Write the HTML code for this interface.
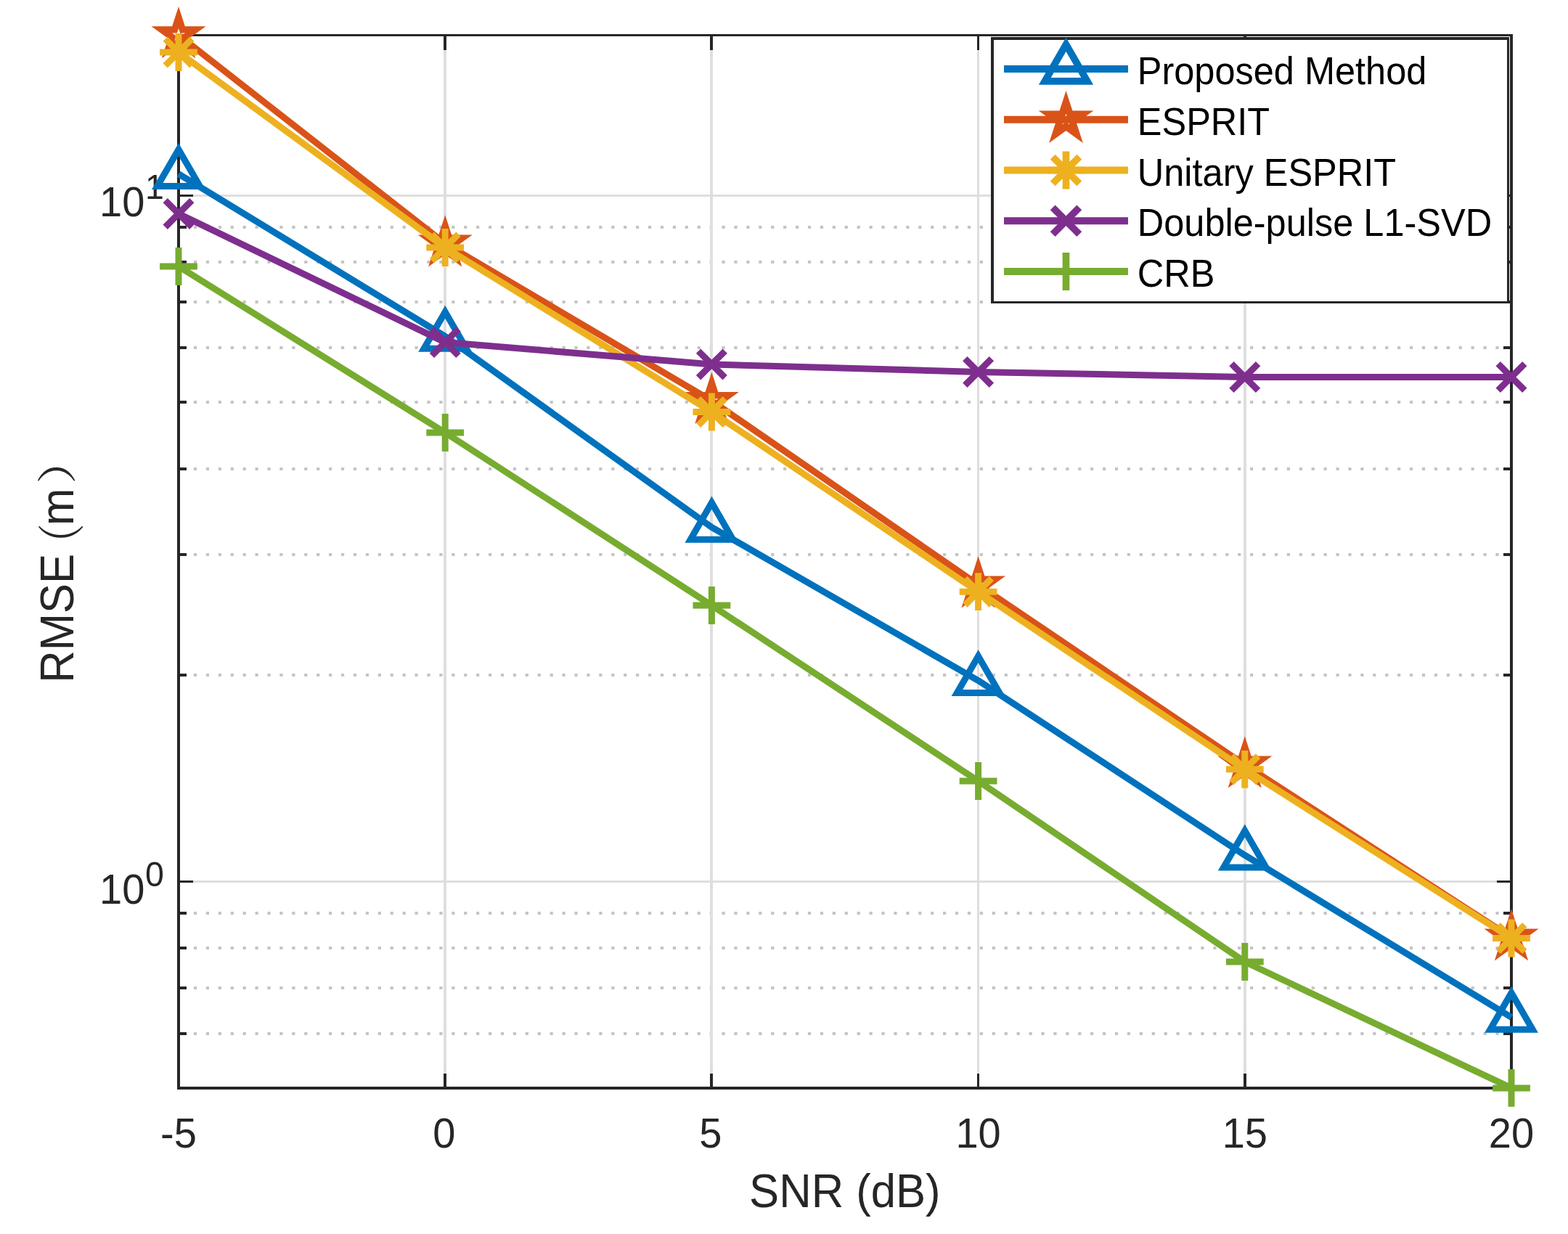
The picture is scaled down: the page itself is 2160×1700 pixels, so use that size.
<!DOCTYPE html>
<html><head><meta charset="utf-8"><title>RMSE vs SNR</title>
<style>html,body{margin:0;padding:0;background:#fff;}svg{display:block;}text{font-family:"Liberation Sans",Arial,Helvetica,sans-serif;}text.cjk{font-family:"Noto Serif CJK SC","Noto Serif CJK JP","Noto Sans CJK SC",serif;}</style></head><body>
<svg xmlns="http://www.w3.org/2000/svg" width="2160" height="1700" viewBox="0 0 2160 1700">
<rect x="0" y="0" width="2160" height="1700" fill="#fff"/>
<g id="grid">
<line x1="250" y1="1424" x2="2080" y2="1424" stroke="#c4c4c4" stroke-width="4" stroke-dasharray="4.2 12.72"/>
<line x1="250" y1="1361" x2="2080" y2="1361" stroke="#c4c4c4" stroke-width="4" stroke-dasharray="4.2 12.72"/>
<line x1="250" y1="1306" x2="2080" y2="1306" stroke="#c4c4c4" stroke-width="4" stroke-dasharray="4.2 12.72"/>
<line x1="250" y1="1258" x2="2080" y2="1258" stroke="#c4c4c4" stroke-width="4" stroke-dasharray="4.2 12.72"/>
<line x1="250" y1="930" x2="2080" y2="930" stroke="#c4c4c4" stroke-width="4" stroke-dasharray="4.2 12.72"/>
<line x1="250" y1="764" x2="2080" y2="764" stroke="#c4c4c4" stroke-width="4" stroke-dasharray="4.2 12.72"/>
<line x1="250" y1="646" x2="2080" y2="646" stroke="#c4c4c4" stroke-width="4" stroke-dasharray="4.2 12.72"/>
<line x1="250" y1="554" x2="2080" y2="554" stroke="#c4c4c4" stroke-width="4" stroke-dasharray="4.2 12.72"/>
<line x1="250" y1="479" x2="2080" y2="479" stroke="#c4c4c4" stroke-width="4" stroke-dasharray="4.2 12.72"/>
<line x1="250" y1="416" x2="2080" y2="416" stroke="#c4c4c4" stroke-width="4" stroke-dasharray="4.2 12.72"/>
<line x1="250" y1="361" x2="2080" y2="361" stroke="#c4c4c4" stroke-width="4" stroke-dasharray="4.2 12.72"/>
<line x1="250" y1="313" x2="2080" y2="313" stroke="#c4c4c4" stroke-width="4" stroke-dasharray="4.2 12.72"/>
<line x1="613" y1="47" x2="613" y2="1501" stroke="#dedede" stroke-width="4"/>
<line x1="980" y1="47" x2="980" y2="1501" stroke="#dedede" stroke-width="4"/>
<line x1="1347.5" y1="47" x2="1347.5" y2="1501" stroke="#dedede" stroke-width="3"/>
<line x1="1715" y1="47" x2="1715" y2="1501" stroke="#dedede" stroke-width="4"/>
<line x1="244" y1="1214.5" x2="2084" y2="1214.5" stroke="#dedede" stroke-width="3"/>
<line x1="244" y1="269.5" x2="2084" y2="269.5" stroke="#dedede" stroke-width="3"/>
</g>
<g id="axes" stroke="#262626" fill="none" stroke-linecap="butt">
<line x1="244" y1="48.5" x2="2084" y2="48.5" stroke-width="3"/>
<line x1="244" y1="1499" x2="2084" y2="1499" stroke-width="4"/>
<line x1="246" y1="47" x2="246" y2="1501" stroke-width="4"/>
<line x1="2082" y1="47" x2="2082" y2="1501" stroke-width="4"/>
<path d="M613 1499V1479M613 48.5V69" stroke-width="4"/>
<path d="M980 1499V1479M980 48.5V69" stroke-width="4"/>
<path d="M1347.5 1499V1479M1347.5 48.5V69" stroke-width="3"/>
<path d="M1715 1499V1479M1715 48.5V69" stroke-width="4"/>
<path d="M246 1214.5H266M2082 1214.5H2062" stroke-width="3"/>
<path d="M246 269.5H266M2082 269.5H2062" stroke-width="3"/>
<path d="M246 1424H257M2082 1424H2071 M246 1361H257M2082 1361H2071 M246 1306H257M2082 1306H2071 M246 1258H257M2082 1258H2071 M246 930H257M2082 930H2071 M246 764H257M2082 764H2071 M246 646H257M2082 646H2071 M246 554H257M2082 554H2071 M246 479H257M2082 479H2071 M246 416H257M2082 416H2071 M246 361H257M2082 361H2071 M246 313H257M2082 313H2071" stroke-width="4"/>
</g>
<g id="ticklabels" fill="#262626">
<text transform="translate(246 1580.8) scale(1 1.03)" x="0" y="0" font-size="56" text-anchor="middle">-5</text>
<text transform="translate(611.7 1580.8) scale(1 1.03)" x="0" y="0" font-size="56" text-anchor="middle">0</text>
<text transform="translate(978.9 1580.8) scale(1 1.03)" x="0" y="0" font-size="56" text-anchor="middle">5</text>
<text transform="translate(1347.6 1580.8) scale(1 1.03)" x="0" y="0" font-size="56" text-anchor="middle">10</text>
<text transform="translate(1714.8 1580.8) scale(1 1.03)" x="0" y="0" font-size="56" text-anchor="middle">15</text>
<text transform="translate(2082 1580.8) scale(1 1.03)" x="0" y="0" font-size="56" text-anchor="middle">20</text>
<text transform="translate(137 297.8) scale(1 1.03)" x="0" y="0" font-size="56">10</text>
<text transform="translate(200 273.8) scale(1 1.03)" x="0" y="0" font-size="46.5">1</text>
<text transform="translate(137 1244.9) scale(1 1.03)" x="0" y="0" font-size="56">10</text>
<text transform="translate(200 1220.9) scale(1 1.03)" x="0" y="0" font-size="46.5">0</text>
</g>
<g id="axislabels" fill="#262626">
<text transform="translate(1032.1 1663) scale(1 1.06)" x="0" y="0" font-size="61.6">SNR (dB)</text>
<text transform="translate(100.9 940.8) rotate(-90) scale(1 1.06)" x="0" y="0" font-size="61.6">RMSE</text>
<text transform="translate(100.9 940.8) rotate(-90) scale(1 1.06)" x="216.9" y="0" font-size="61.6">m</text>
<text transform="translate(109.3 777.1) rotate(-90) scale(0.558 0.6556)" x="0" y="0" font-size="100" class="cjk">（</text>
<text transform="translate(98.3 666.9) rotate(-90) scale(0.667 0.5476)" x="0" y="0" font-size="100" class="cjk">）</text>
</g>
<defs><clipPath id="clipax"><rect x="246" y="48.4" width="1836" height="1450.5"/></clipPath></defs>
<g id="series-P">
<path d="M246 239.6 L613.2 463.4 L980.4 726.3 L1347.6 937.6 L1714.8 1178.2 L2082 1401.5" fill="none" stroke="#0072bd" stroke-width="9" stroke-linejoin="round" stroke-linecap="butt"/>
<path d="M246 205.9 L275.2 256.45 L216.8 256.45 Z" fill="none" stroke="#0072bd" stroke-width="9" stroke-linejoin="miter" stroke-miterlimit="10"/>
<path d="M613.2 429.7 L642.4 480.25 L584 480.25 Z" fill="none" stroke="#0072bd" stroke-width="9" stroke-linejoin="miter" stroke-miterlimit="10"/>
<path d="M980.4 692.6 L1009.6 743.15 L951.2 743.15 Z" fill="none" stroke="#0072bd" stroke-width="9" stroke-linejoin="miter" stroke-miterlimit="10"/>
<path d="M1347.6 903.9 L1376.8 954.45 L1318.4 954.45 Z" fill="none" stroke="#0072bd" stroke-width="9" stroke-linejoin="miter" stroke-miterlimit="10"/>
<path d="M1714.8 1144.5 L1744 1195.05 L1685.6 1195.05 Z" fill="none" stroke="#0072bd" stroke-width="9" stroke-linejoin="miter" stroke-miterlimit="10"/>
<path d="M2082 1367.8 L2111.2 1418.35 L2052.8 1418.35 Z" fill="none" stroke="#0072bd" stroke-width="9" stroke-linejoin="miter" stroke-miterlimit="10"/>
</g>
<g id="series-E">
<path d="M246 48.4 L613.2 335.6 L980.4 552.2 L1347.6 805.7 L1714.8 1053.7 L2082 1291.6" fill="none" stroke="#d95319" stroke-width="9" stroke-linejoin="round" stroke-linecap="butt"/>
<path d="M246 24 L251.48 40.86 L269.21 40.86 L254.86 51.28 L260.34 68.14 L246 57.72 L231.66 68.14 L237.14 51.28 L222.79 40.86 L240.52 40.86 Z" fill="none" stroke="#d95319" stroke-width="9.3" stroke-linejoin="miter" stroke-miterlimit="10"/>
<path d="M613.2 311.2 L618.68 328.06 L636.41 328.06 L622.06 338.48 L627.54 355.34 L613.2 344.92 L598.86 355.34 L604.34 338.48 L589.99 328.06 L607.72 328.06 Z" fill="none" stroke="#d95319" stroke-width="9.3" stroke-linejoin="miter" stroke-miterlimit="10"/>
<path d="M980.4 527.8 L985.88 544.66 L1003.61 544.66 L989.26 555.08 L994.74 571.94 L980.4 561.52 L966.06 571.94 L971.54 555.08 L957.19 544.66 L974.92 544.66 Z" fill="none" stroke="#d95319" stroke-width="9.3" stroke-linejoin="miter" stroke-miterlimit="10"/>
<path d="M1347.6 781.3 L1353.08 798.16 L1370.81 798.16 L1356.46 808.58 L1361.94 825.44 L1347.6 815.02 L1333.26 825.44 L1338.74 808.58 L1324.39 798.16 L1342.12 798.16 Z" fill="none" stroke="#d95319" stroke-width="9.3" stroke-linejoin="miter" stroke-miterlimit="10"/>
<path d="M1714.8 1029.3 L1720.28 1046.16 L1738.01 1046.16 L1723.66 1056.58 L1729.14 1073.44 L1714.8 1063.02 L1700.46 1073.44 L1705.94 1056.58 L1691.59 1046.16 L1709.32 1046.16 Z" fill="none" stroke="#d95319" stroke-width="9.3" stroke-linejoin="miter" stroke-miterlimit="10"/>
<path d="M2082 1267.2 L2087.48 1284.06 L2105.21 1284.06 L2090.86 1294.48 L2096.34 1311.34 L2082 1300.92 L2067.66 1311.34 L2073.14 1294.48 L2058.79 1284.06 L2076.52 1284.06 Z" fill="none" stroke="#d95319" stroke-width="9.3" stroke-linejoin="miter" stroke-miterlimit="10"/>
</g>
<g id="series-U">
<path d="M246 72 L613.2 341 L980.4 567.5 L1347.6 815.2 L1714.8 1059.8 L2082 1292.5" fill="none" stroke="#edb120" stroke-width="9" stroke-linejoin="round" stroke-linecap="butt"/>
<path d="M220.1 72L271.9 72 M246 46.1L246 97.9 M227.69 53.69L264.31 90.31 M227.69 90.31L264.31 53.69" fill="none" stroke="#edb120" stroke-width="9" stroke-linecap="butt"/>
<path d="M587.3 341L639.1 341 M613.2 315.1L613.2 366.9 M594.89 322.69L631.51 359.31 M594.89 359.31L631.51 322.69" fill="none" stroke="#edb120" stroke-width="9" stroke-linecap="butt"/>
<path d="M954.5 567.5L1006.3 567.5 M980.4 541.6L980.4 593.4 M962.09 549.19L998.71 585.81 M962.09 585.81L998.71 549.19" fill="none" stroke="#edb120" stroke-width="9" stroke-linecap="butt"/>
<path d="M1321.7 815.2L1373.5 815.2 M1347.6 789.3L1347.6 841.1 M1329.29 796.89L1365.91 833.51 M1329.29 833.51L1365.91 796.89" fill="none" stroke="#edb120" stroke-width="9" stroke-linecap="butt"/>
<path d="M1688.9 1059.8L1740.7 1059.8 M1714.8 1033.9L1714.8 1085.7 M1696.49 1041.49L1733.11 1078.11 M1696.49 1078.11L1733.11 1041.49" fill="none" stroke="#edb120" stroke-width="9" stroke-linecap="butt"/>
<path d="M2056.1 1292.5L2107.9 1292.5 M2082 1266.6L2082 1318.4 M2063.69 1274.19L2100.31 1310.81 M2063.69 1310.81L2100.31 1274.19" fill="none" stroke="#edb120" stroke-width="9" stroke-linecap="butt"/>
</g>
<g id="series-D">
<path d="M246 294.4 L613.2 471.6 L980.4 501.9 L1347.6 512.4 L1714.8 519.5 L2082 519.4" fill="none" stroke="#7e2f8e" stroke-width="9" stroke-linejoin="round" stroke-linecap="butt"/>
<path d="M227.69 276.09L264.31 312.71 M227.69 312.71L264.31 276.09" fill="none" stroke="#7e2f8e" stroke-width="9" stroke-linecap="butt"/>
<path d="M594.89 453.29L631.51 489.91 M594.89 489.91L631.51 453.29" fill="none" stroke="#7e2f8e" stroke-width="9" stroke-linecap="butt"/>
<path d="M962.09 483.59L998.71 520.21 M962.09 520.21L998.71 483.59" fill="none" stroke="#7e2f8e" stroke-width="9" stroke-linecap="butt"/>
<path d="M1329.29 494.09L1365.91 530.71 M1329.29 530.71L1365.91 494.09" fill="none" stroke="#7e2f8e" stroke-width="9" stroke-linecap="butt"/>
<path d="M1696.49 501.19L1733.11 537.81 M1696.49 537.81L1733.11 501.19" fill="none" stroke="#7e2f8e" stroke-width="9" stroke-linecap="butt"/>
<path d="M2063.69 501.09L2100.31 537.71 M2063.69 537.71L2100.31 501.09" fill="none" stroke="#7e2f8e" stroke-width="9" stroke-linecap="butt"/>
</g>
<g id="series-C">
<path d="M246 367 L613.2 596 L980.4 834 L1347.6 1076 L1714.8 1325 L2082 1498.9" fill="none" stroke="#77ac30" stroke-width="9" stroke-linejoin="round" stroke-linecap="butt"/>
<path d="M220.1 367L271.9 367 M246 341.1L246 392.9" fill="none" stroke="#77ac30" stroke-width="9" stroke-linecap="butt"/>
<path d="M587.3 596L639.1 596 M613.2 570.1L613.2 621.9" fill="none" stroke="#77ac30" stroke-width="9" stroke-linecap="butt"/>
<path d="M954.5 834L1006.3 834 M980.4 808.1L980.4 859.9" fill="none" stroke="#77ac30" stroke-width="9" stroke-linecap="butt"/>
<path d="M1321.7 1076L1373.5 1076 M1347.6 1050.1L1347.6 1101.9" fill="none" stroke="#77ac30" stroke-width="9" stroke-linecap="butt"/>
<path d="M1688.9 1325L1740.7 1325 M1714.8 1299.1L1714.8 1350.9" fill="none" stroke="#77ac30" stroke-width="9" stroke-linecap="butt"/>
<path d="M2056.1 1498.9L2107.9 1498.9 M2082 1473L2082 1524.8" fill="none" stroke="#77ac30" stroke-width="9" stroke-linecap="butt"/>
</g>
<g id="legend">
<rect x="1367" y="53" width="710.5" height="363.5" fill="#fff"/>
<path d="M1365 53H2079M1367 51V418" stroke="#262626" stroke-width="4" fill="none"/>
<path d="M1365 416.5H2079M2077.5 51V418" stroke="#262626" stroke-width="3" fill="none"/>
<line x1="1383" y1="95" x2="1554" y2="95" stroke="#0072bd" stroke-width="10.1"/>
<path d="M1468.5 61.3 L1497.7 111.85 L1439.3 111.85 Z" fill="none" stroke="#0072bd" stroke-width="9.7" stroke-linejoin="miter" stroke-miterlimit="10"/>
<text transform="translate(1566.8 116.1) scale(1 1.05)" x="0" y="0" font-size="50.5" fill="#000">Proposed Method</text>
<line x1="1383" y1="164.75" x2="1554" y2="164.75" stroke="#d95319" stroke-width="10.1"/>
<path d="M1468.5 140.65 L1473.91 157.3 L1491.42 157.3 L1477.25 167.59 L1482.67 184.25 L1468.5 173.96 L1454.33 184.25 L1459.75 167.59 L1445.58 157.3 L1463.09 157.3 Z" fill="none" stroke="#d95319" stroke-width="9.7" stroke-linejoin="miter" stroke-miterlimit="10"/>
<text transform="translate(1566.8 185.85) scale(1 1.05)" x="0" y="0" font-size="50.5" fill="#000">ESPRIT</text>
<line x1="1383" y1="234.5" x2="1554" y2="234.5" stroke="#edb120" stroke-width="10.1"/>
<path d="M1442.6 234.5L1494.4 234.5 M1468.5 208.6L1468.5 260.4 M1450.19 216.19L1486.81 252.81 M1450.19 252.81L1486.81 216.19" fill="none" stroke="#edb120" stroke-width="9.7" stroke-linecap="butt"/>
<text transform="translate(1566.8 255.6) scale(1 1.05)" x="0" y="0" font-size="50.5" fill="#000">Unitary ESPRIT</text>
<line x1="1383" y1="304.25" x2="1554" y2="304.25" stroke="#7e2f8e" stroke-width="10.1"/>
<path d="M1450.19 285.94L1486.81 322.56 M1450.19 322.56L1486.81 285.94" fill="none" stroke="#7e2f8e" stroke-width="9.7" stroke-linecap="butt"/>
<text transform="translate(1566.8 325.35) scale(1 1.05)" x="0" y="0" font-size="50.5" fill="#000">Double-pulse L1-SVD</text>
<line x1="1383" y1="374" x2="1554" y2="374" stroke="#77ac30" stroke-width="10.1"/>
<path d="M1442.6 374L1494.4 374 M1468.5 348.1L1468.5 399.9" fill="none" stroke="#77ac30" stroke-width="9.7" stroke-linecap="butt"/>
<text transform="translate(1566.8 395.1) scale(1 1.05)" x="0" y="0" font-size="50.5" fill="#000">CRB</text>
</g>
</svg></body></html>
